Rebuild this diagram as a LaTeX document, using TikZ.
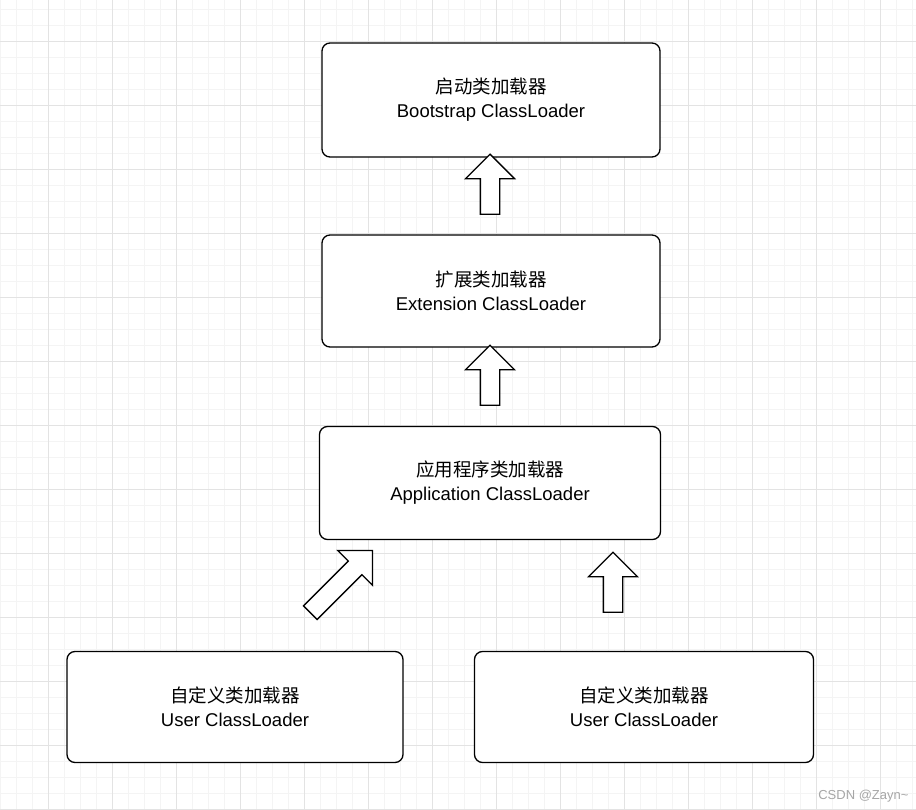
\documentclass[tikz,border=0pt]{standalone}
\usepackage{fontspec}
\setmainfont{Liberation Sans}
\newfontfamily\cjk{Noto Sans CJK SC}
\usetikzlibrary{shapes.arrows}
\begin{document}
\begin{tikzpicture}[x=1pt,y=-1pt,
  box/.style={draw=black,line width=1.3pt,rounded corners=8pt,fill=white,align=center,font=\fontsize{18.5}{24}\selectfont,inner sep=0pt},
  barrow/.style={single arrow,draw=black,line width=1.3pt,fill=white,minimum width=48pt,single arrow head extend=15pt,inner xsep=0pt,inner ysep=9pt,minimum height=60pt,single arrow head indent=0pt}]
\useasboundingbox (0,0) rectangle (916,810);
\fill[white] (0,0) rectangle (916,810);
\foreach \i in {0,16,...,916} \draw[gray!9,line width=0.8pt] (\i,0) -- (\i,810);
\foreach \i in {9,25,...,810} \draw[gray!9,line width=0.8pt] (0,\i) -- (916,\i);
\foreach \i in {48,112,...,916} \draw[gray!22,line width=0.8pt] (\i,0) -- (\i,810);
\foreach \i in {41,105,...,810} \draw[gray!22,line width=0.8pt] (0,\i) -- (916,\i);
\node[box,minimum width=338pt,minimum height=114pt] (boot) at (491,100) {{\cjk 启动类加载器}\\Bootstrap ClassLoader};
\node[box,minimum width=338pt,minimum height=112pt] (ext) at (491,291) {{\cjk 扩展类加载器}\\Extension ClassLoader};
\node[box,minimum width=341pt,minimum height=113pt] (app) at (490,483) {{\cjk 应用程序类加载器}\\Application ClassLoader};
\node[box,minimum width=336pt,minimum height=111pt] (u1) at (235,707) {{\cjk 自定义类加载器}\\User ClassLoader};
\node[box,minimum width=339pt,minimum height=111pt] (u2) at (644,707) {{\cjk 自定义类加载器}\\User ClassLoader};
\node[barrow,rotate=90] (a1) at (490,189) {};
\node[barrow,rotate=90] (a2) at (490,380) {};
\node[barrow,rotate=45,minimum height=88pt,minimum width=46pt] (a3) at (338,585) {};
\node[barrow,rotate=90,minimum width=46pt] (a4) at (613,587) {};
\node[text=gray!70,font=\fontsize{13}{15}\selectfont,anchor=south east] (wm) at (912,806) {CSDN @Zayn\textasciitilde};
\end{tikzpicture}
\end{document}
